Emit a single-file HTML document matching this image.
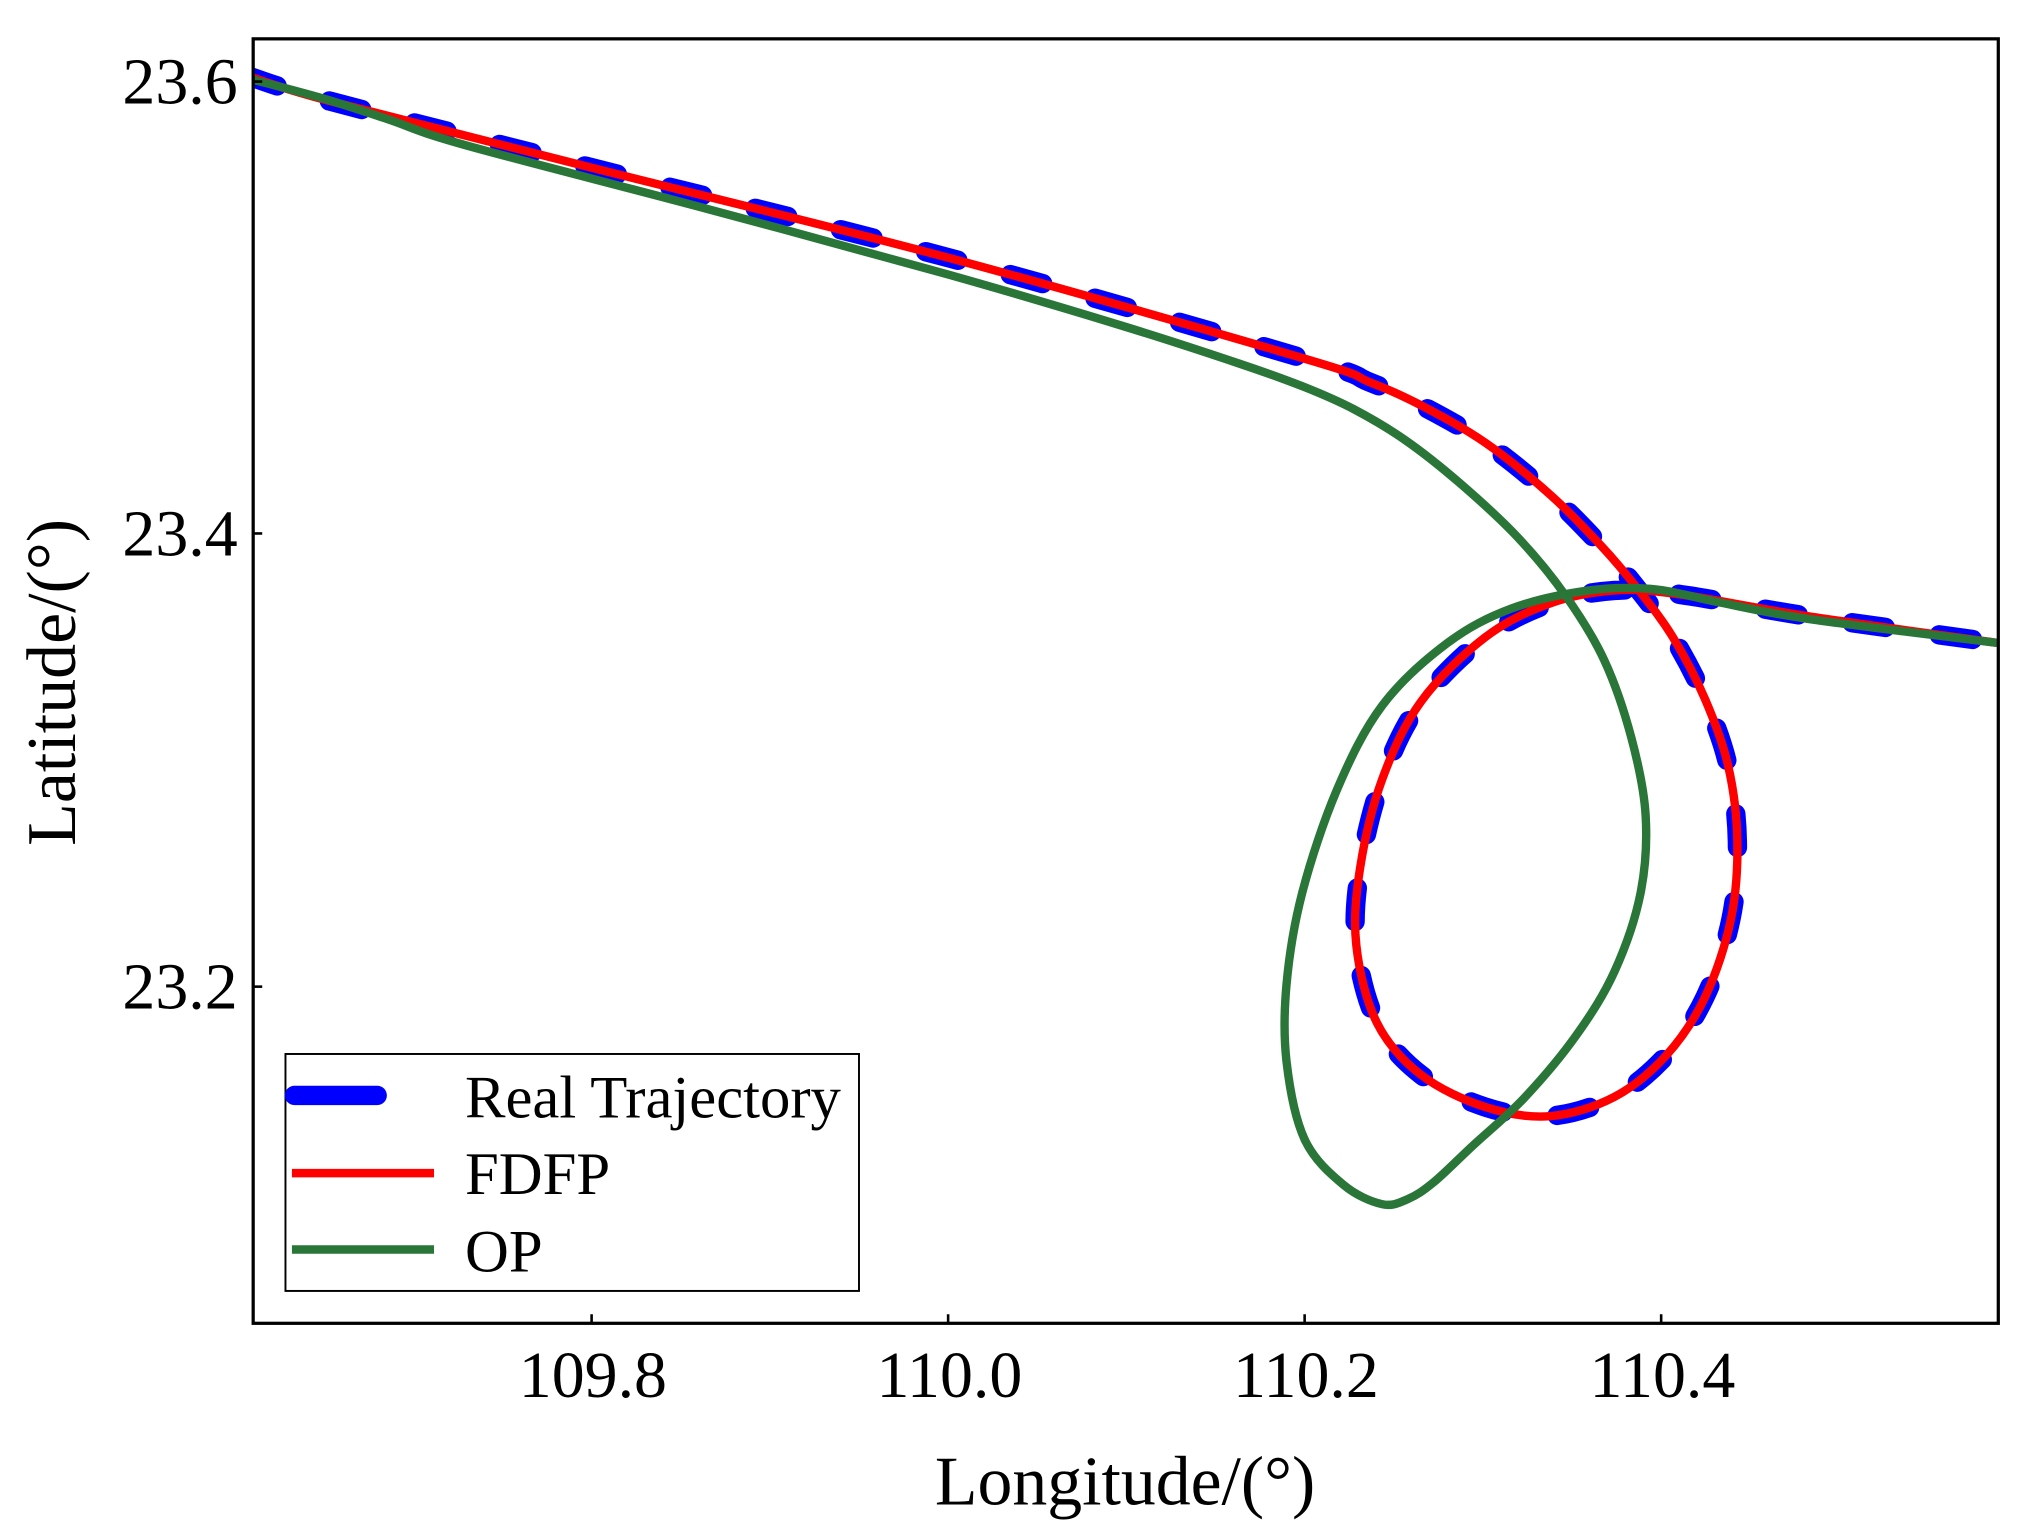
<!DOCTYPE html>
<html><head><meta charset="utf-8"><style>
html,body{margin:0;padding:0;background:#fff;}
svg{display:block;}
text{font-family:"Liberation Serif",serif;fill:#000;}
</style></head><body>
<svg id="s" width="2028" height="1524" viewBox="0 0 1570 1177" preserveAspectRatio="none" xmlns="http://www.w3.org/2000/svg">
<defs><clipPath id="c"><rect x="196" y="30" width="1351" height="992"/></clipPath></defs>
<g clip-path="url(#c)">
<path id="blue" fill="none" stroke="#0000ff" stroke-width="15" stroke-linecap="round" stroke-dasharray="26 42"/>
<path id="red" fill="none" stroke="#ff0000" stroke-width="6.5" stroke-linejoin="round"/>
<path id="green" fill="none" stroke="#2a7638" stroke-width="6.5" stroke-linejoin="round"/>
</g>
<rect x="196" y="30" width="1351" height="992" fill="none" stroke="#000" stroke-width="2.5"/>
<g stroke="#000" stroke-width="2">
<line x1="458" y1="1022" x2="458" y2="1015"/><line x1="734" y1="1022" x2="734" y2="1015"/>
<line x1="1010" y1="1022" x2="1010" y2="1015"/><line x1="1286" y1="1022" x2="1286" y2="1015"/>
<line x1="196" y1="63" x2="203" y2="63"/><line x1="196" y1="412" x2="203" y2="412"/><line x1="196" y1="762" x2="203" y2="762"/>
</g>
<g font-size="51" text-anchor="middle">
<text x="459" y="1079">109.8</text><text x="735" y="1079">110.0</text>
<text x="1011" y="1079">110.2</text><text x="1287" y="1079">110.4</text>
</g>
<g font-size="51" text-anchor="end">
<text x="184" y="80">23.6</text><text x="184" y="429">23.4</text><text x="184" y="779">23.2</text>
</g>
<text x="871" y="1162" font-size="54" text-anchor="middle">Longitude/(°)</text>
<text transform="translate(58,527) rotate(-90)" font-size="54" text-anchor="middle">Latitude/(°)</text>
<rect x="221" y="814" width="444" height="183" fill="#fff" stroke="#000" stroke-width="1.5"/>
<line x1="228" y1="846" x2="292" y2="846" stroke="#0000ff" stroke-width="15" stroke-linecap="round"/>
<line x1="226" y1="906" x2="336" y2="906" stroke="#ff0000" stroke-width="6.5"/>
<line x1="226" y1="965" x2="336" y2="965" stroke="#2a7638" stroke-width="6.5"/>
<g font-size="47">
<text x="360" y="863">Real Trajectory</text>
<text x="360" y="922">FDFP</text>
<text x="360" y="982">OP</text>
</g>
</svg>
<script>
function cr(p){var d="M"+p[0][0]+","+p[0][1];for(var i=0;i<p.length-1;i++){var a=p[i-1]||p[i],b=p[i],c=p[i+1],e=p[i+2]||c;
d+=" C"+(b[0]+(c[0]-a[0])/6)+","+(b[1]+(c[1]-a[1])/6)+" "+(c[0]-(e[0]-b[0])/6)+","+(c[1]-(e[1]-b[1])/6)+" "+c[0]+","+c[1];}return d;}
var red=[[190,58],[255,78],[460,130],[734,199],[1010,277],[1060,295],[1100,313],[1150,342],[1200,382],[1240,422],[1268,455],[1295,492],[1320,540],[1338,592],[1345,650],[1340,710],[1320,770],[1290,815],[1250,847],[1200,862],[1150,855],[1100,830],[1066,790],[1050,730],[1053,670],[1070,602],[1100,542],[1150,492],[1200,466],[1250,456],[1300,459],[1400,476],[1550,497]];
var green=[[190,60],[250,76],[300,92],[360,112],[550,162],[734,212],[870,252],[960,281],[1010,299],[1048,316],[1088,340],[1130,373],[1175,415],[1212,460],[1242,510],[1263,570],[1274,630],[1270,690],[1250,750],[1220,800],[1180,848],[1140,885],[1110,913],[1090,926],[1070,930],[1040,915],[1010,880],[996,820],[996,760],[1008,690],[1035,610],[1070,545],[1120,497],[1170,470],[1230,456],[1280,455],[1330,465],[1400,478],[1550,497]];
var r=cr(red);
document.getElementById("red").setAttribute("d",r);
document.getElementById("blue").setAttribute("d",r);
document.getElementById("green").setAttribute("d",cr(green));
</script>
</body></html>
